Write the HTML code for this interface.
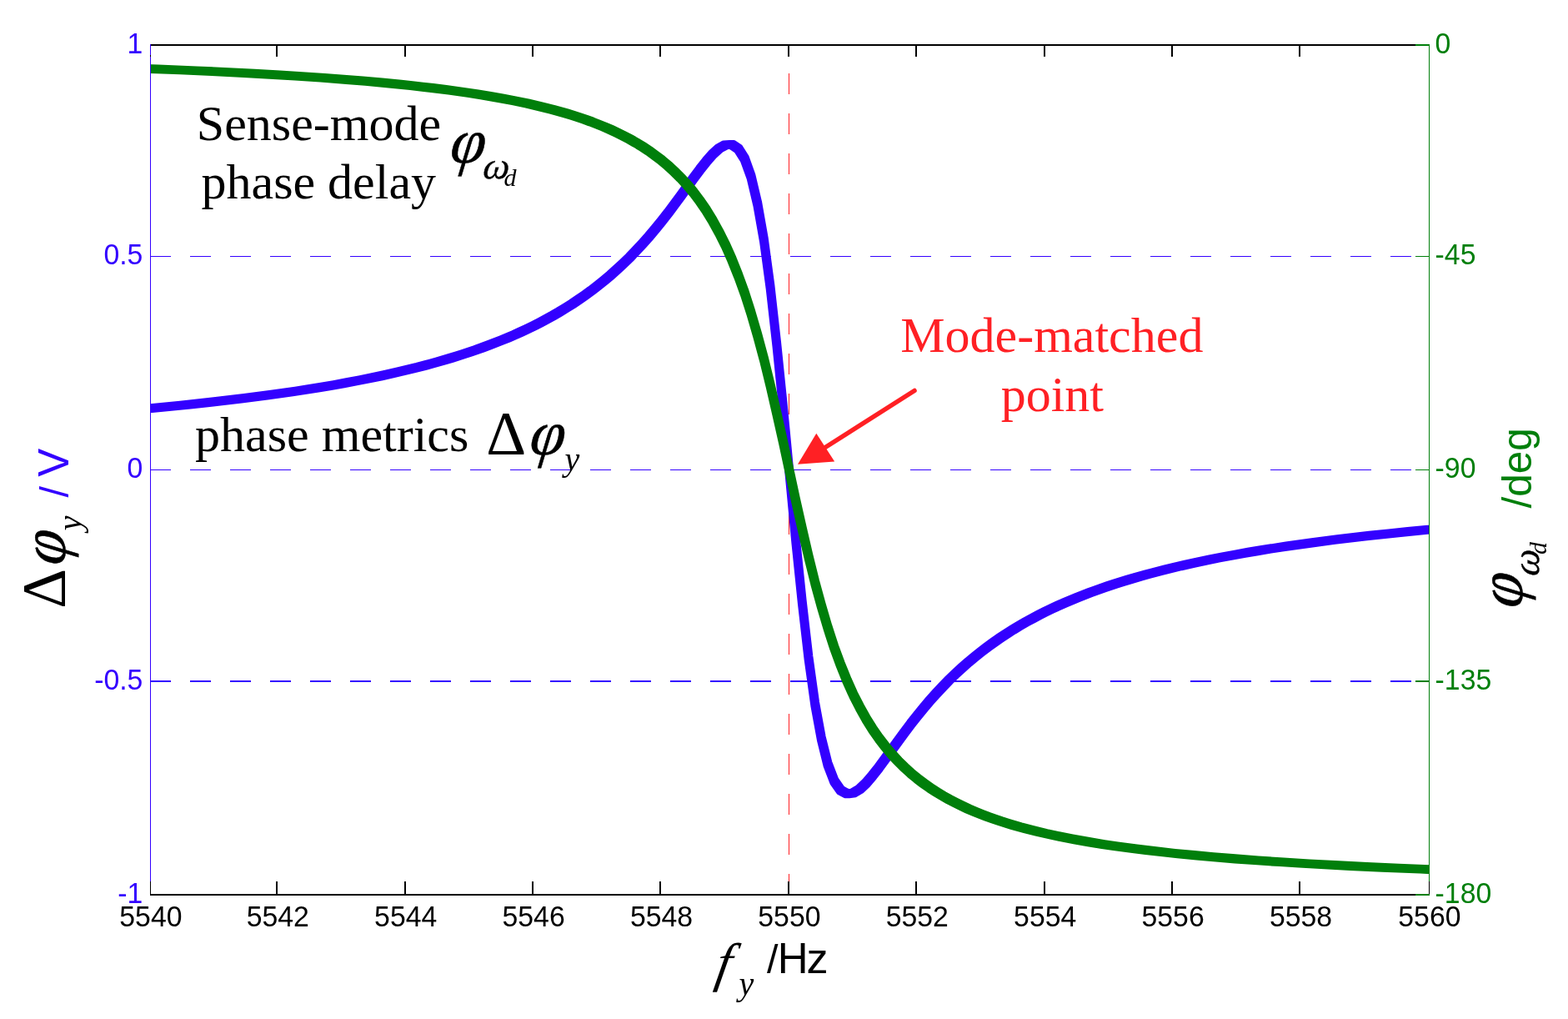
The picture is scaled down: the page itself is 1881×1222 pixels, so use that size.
<!DOCTYPE html>
<html lang="en"><head><meta charset="utf-8"><title>Phase metrics vs sense-mode frequency</title>
<style>
html,body{margin:0;padding:0;background:#fff;}
body{width:1881px;height:1222px;overflow:hidden;}
svg{display:block;}
text{white-space:pre;}
.tk{font-family:'Liberation Sans', Arial, sans-serif;font-size:35.17px;}
.an{font-family:'Liberation Serif', 'Times New Roman', serif;font-size:60px;}
.mi{font-family:'Liberation Serif', 'Times New Roman', serif;font-style:italic;}
.un{font-family:'Liberation Sans', Arial, sans-serif;}
.cr{shape-rendering:crispEdges;}
</style></head><body>
<svg width="1881" height="1222" viewBox="0 0 1881 1222">
<rect x="0" y="0" width="1881" height="1222" fill="#ffffff"/>
<g class="cr" stroke="#3300ff" stroke-dasharray="25 23" fill="none">
<line x1="180" y1="307.5" x2="1698" y2="307.5" stroke-width="1"/>
<line x1="180" y1="563.5" x2="1698" y2="563.5" stroke-width="1"/>
<line x1="180" y1="817" x2="1698" y2="817" stroke-width="2"/>
</g>
<line class="cr" x1="946.5" y1="1073" x2="946.5" y2="55" stroke="#ff2024" stroke-width="1" stroke-dasharray="25 23"/>
<clipPath id="plotclip"><rect x="180" y="40" width="1535" height="1045"/></clipPath>
<g clip-path="url(#plotclip)" stroke-width="5.6" stroke-linejoin="round">
<path d="M180.0 487.0 L216.0 483.5 L254.2 479.4 L292.5 474.8 L323.2 470.8 L354.0 466.4 L369.2 464.0 L384.8 461.5 L400.0 458.9 L415.2 456.1 L430.5 453.2 L446.0 450.0 L461.2 446.8 L476.5 443.3 L499.5 437.7 L514.8 433.6 L522.8 431.4 L537.8 427.0 L545.5 424.6 L553.5 422.1 L568.5 417.1 L584.0 411.4 L599.2 405.5 L607.0 402.3 L614.8 399.0 L622.2 395.6 L630.0 392.0 L637.8 388.2 L645.2 384.4 L653.0 380.3 L660.8 376.0 L668.2 371.7 L676.2 366.8 L683.8 362.1 L691.5 356.9 L699.0 351.7 L706.8 346.1 L714.5 340.1 L722.0 334.1 L729.8 327.6 L737.5 320.7 L745.0 313.7 L752.8 306.2 L760.2 298.5 L768.2 289.9 L775.8 281.4 L783.2 272.6 L791.2 262.7 L798.8 253.1 L806.2 243.2 L814.2 232.3 L829.5 211.2 L837.2 200.8 L844.8 191.2 L852.5 182.3 L860.2 175.4 L867.8 171.2 L875.2 170.8 L880.5 170.8 L888.0 175.8 L888.2 176.0 L895.8 188.0 L903.5 209.4 L911.2 241.8 L918.8 284.7 L926.5 341.4 L934.2 409.7 L941.8 484.0 L957.2 646.3 L964.8 719.7 L972.5 786.6 L980.2 841.7 L987.8 883.1 L995.5 914.0 L1003.2 934.1 L1010.8 945.0 L1011.0 945.2 L1017.5 948.8 L1017.8 948.9 L1021.2 948.4 L1028.8 943.9 L1036.5 936.6 L1044.2 927.6 L1051.8 917.9 L1059.5 907.4 L1074.8 886.3 L1082.5 875.8 L1090.2 865.6 L1097.8 856.0 L1105.5 846.5 L1113.2 837.4 L1121.0 828.7 L1128.5 820.7 L1136.2 812.8 L1144.0 805.3 L1151.5 798.4 L1159.5 791.3 L1167.0 785.1 L1174.8 778.9 L1182.2 773.2 L1190.0 767.6 L1197.5 762.4 L1205.2 757.3 L1213.0 752.4 L1220.5 747.9 L1228.2 743.4 L1236.0 739.2 L1243.8 735.1 L1251.2 731.3 L1259.0 727.5 L1266.8 723.9 L1274.2 720.6 L1282.0 717.3 L1289.8 714.1 L1305.0 708.2 L1312.8 705.3 L1328.0 700.0 L1335.8 697.5 L1351.0 692.7 L1358.8 690.4 L1374.0 686.1 L1381.8 684.1 L1397.0 680.2 L1420.2 674.7 L1435.2 671.4 L1450.5 668.2 L1466.0 665.2 L1481.2 662.4 L1496.8 659.6 L1512.0 657.1 L1542.8 652.3 L1573.5 648.0 L1604.2 644.1 L1642.5 639.6 L1665.5 637.2 L1688.5 634.9 L1712.5 632.6 L1715.0 632.6 L1715.0 637.8 L1678.0 641.4 L1639.8 645.5 L1601.5 650.0 L1570.8 654.1 L1540.0 658.5 L1524.8 660.8 L1509.2 663.4 L1494.0 666.0 L1478.8 668.7 L1463.5 671.6 L1448.0 674.7 L1432.8 678.0 L1417.5 681.4 L1394.5 687.1 L1379.2 691.1 L1371.2 693.3 L1356.2 697.7 L1348.5 700.0 L1340.5 702.6 L1325.5 707.6 L1310.0 713.2 L1294.8 719.1 L1287.0 722.3 L1279.2 725.6 L1271.8 728.9 L1264.0 732.5 L1256.2 736.3 L1248.8 740.1 L1241.0 744.2 L1233.2 748.4 L1225.8 752.7 L1217.8 757.5 L1210.2 762.3 L1202.5 767.4 L1195.0 772.6 L1187.2 778.2 L1179.5 784.1 L1172.0 790.1 L1164.2 796.5 L1156.5 803.4 L1149.0 810.3 L1141.2 817.8 L1133.8 825.5 L1125.8 834.0 L1118.2 842.4 L1110.8 851.2 L1102.8 861.0 L1095.2 870.6 L1087.5 880.8 L1079.8 891.3 L1064.5 912.4 L1056.8 922.9 L1049.2 932.6 L1041.5 941.6 L1033.8 948.9 L1026.2 953.4 L1018.8 954.4 L1013.5 954.4 L1006.0 950.2 L1005.8 950.0 L998.2 939.1 L990.5 919.0 L982.8 888.1 L975.2 846.7 L967.5 791.6 L959.8 724.7 L952.2 651.3 L936.8 489.0 L929.2 414.7 L921.5 346.4 L913.8 289.7 L906.2 246.8 L898.5 214.4 L890.8 193.0 L883.2 181.0 L883.0 180.8 L876.0 176.2 L875.8 176.0 L872.8 176.2 L865.2 180.4 L857.2 187.6 L849.8 196.2 L842.2 205.8 L834.5 216.2 L819.2 237.3 L811.2 248.2 L803.8 258.1 L796.2 267.7 L788.5 277.3 L780.8 286.4 L773.0 295.2 L765.5 303.2 L757.8 311.2 L750.0 318.7 L742.5 325.7 L734.5 332.8 L727.0 339.1 L719.2 345.3 L711.8 351.1 L704.0 356.7 L696.5 361.9 L688.8 367.1 L681.0 372.0 L673.5 376.5 L665.8 381.0 L658.0 385.3 L650.2 389.4 L642.8 393.2 L635.0 397.0 L627.2 400.6 L619.8 404.0 L612.0 407.3 L604.2 410.5 L589.0 416.4 L581.2 419.3 L566.0 424.6 L558.2 427.2 L543.0 432.0 L535.2 434.3 L520.0 438.6 L512.2 440.7 L497.0 444.6 L473.8 450.1 L458.8 453.4 L443.5 456.6 L428.0 459.6 L412.8 462.5 L397.2 465.2 L382.0 467.8 L351.2 472.5 L320.8 476.8 L289.8 480.8 L251.5 485.3 L228.5 487.7 L205.5 490.0 L182.5 492.2 L180.0 492.2Z" fill="#3300ff" stroke="#3300ff"/>
<path d="M180.0 80.0 L182.5 80.0 L190.2 80.3 L236.2 82.2 L274.5 84.0 L305.2 85.6 L335.8 87.3 L359.0 88.7 L389.5 90.8 L412.5 92.5 L435.5 94.4 L458.5 96.4 L481.5 98.6 L497.0 100.3 L519.8 102.9 L535.5 104.8 L558.2 107.9 L573.8 110.3 L589.0 112.7 L604.5 115.5 L619.8 118.4 L635.0 121.6 L650.5 125.2 L665.5 129.0 L681.0 133.3 L688.8 135.7 L696.5 138.2 L704.0 140.7 L711.8 143.5 L719.5 146.5 L727.0 149.5 L734.8 152.9 L742.5 156.5 L750.0 160.2 L757.8 164.3 L765.5 168.7 L773.0 173.2 L780.8 178.3 L788.5 183.9 L796.0 189.6 L803.8 196.1 L811.5 203.2 L819.2 210.9 L826.8 219.1 L834.5 228.4 L842.0 238.4 L849.8 249.7 L857.5 262.3 L865.2 276.3 L872.8 291.4 L880.5 308.7 L888.2 328.1 L895.8 349.0 L903.2 372.2 L911.2 399.6 L918.8 427.7 L926.5 459.1 L934.2 492.6 L941.8 526.5 L957.2 598.1 L964.8 631.8 L972.5 665.1 L980.2 696.2 L987.8 724.0 L995.5 750.2 L1003.2 773.9 L1010.8 794.5 L1018.8 814.2 L1026.2 830.7 L1033.8 845.6 L1041.5 859.4 L1049.2 871.8 L1057.0 883.0 L1064.5 892.8 L1072.2 902.0 L1080.0 910.4 L1087.8 918.0 L1095.2 924.8 L1103.0 931.2 L1110.8 937.1 L1118.2 942.3 L1126.0 947.4 L1133.8 952.1 L1141.2 956.3 L1149.0 960.3 L1156.8 964.1 L1164.2 967.6 L1171.8 970.8 L1179.8 974.0 L1187.2 976.9 L1195.0 979.6 L1202.5 982.2 L1210.2 984.6 L1225.5 989.1 L1241.0 993.2 L1256.2 996.9 L1271.8 1000.3 L1286.8 1003.3 L1302.5 1006.1 L1325.2 1009.9 L1340.8 1012.2 L1363.8 1015.3 L1386.8 1018.1 L1409.8 1020.7 L1432.8 1022.9 L1455.8 1025.0 L1478.8 1026.9 L1509.5 1029.3 L1540.0 1031.3 L1570.8 1033.2 L1601.5 1034.9 L1639.8 1036.8 L1678.0 1038.5 L1715.0 1040.0 L1715.0 1045.1 L1712.5 1045.1 L1703.8 1044.8 L1657.8 1042.9 L1619.5 1041.1 L1588.8 1039.5 L1558.2 1037.8 L1535.0 1036.3 L1504.5 1034.3 L1481.5 1032.6 L1458.5 1030.7 L1435.5 1028.7 L1412.5 1026.5 L1397.0 1024.8 L1374.2 1022.2 L1358.5 1020.3 L1335.8 1017.2 L1320.2 1014.9 L1305.0 1012.4 L1289.5 1009.7 L1274.2 1006.8 L1259.0 1003.6 L1243.5 1000.1 L1228.5 996.3 L1213.0 992.0 L1205.2 989.6 L1197.5 987.2 L1190.0 984.6 L1182.2 981.9 L1174.5 978.9 L1167.0 975.9 L1159.2 972.6 L1151.5 969.0 L1144.0 965.3 L1136.2 961.3 L1128.5 956.9 L1121.0 952.4 L1113.2 947.3 L1105.5 941.9 L1098.0 936.2 L1090.2 929.8 L1082.5 922.8 L1074.8 915.1 L1067.2 907.0 L1059.5 897.8 L1052.0 888.0 L1044.2 876.8 L1036.5 864.4 L1028.8 850.6 L1021.2 835.7 L1013.5 818.6 L1005.8 799.5 L998.2 778.9 L990.8 756.0 L982.8 729.0 L975.2 701.2 L967.5 670.1 L959.8 636.8 L952.2 603.1 L936.8 531.5 L929.2 497.6 L921.5 464.1 L913.8 432.7 L906.2 404.6 L898.5 378.0 L890.8 354.0 L883.2 333.1 L875.2 313.2 L867.8 296.4 L860.2 281.3 L852.5 267.3 L844.8 254.7 L837.0 243.4 L829.5 233.4 L821.8 224.1 L814.0 215.7 L806.2 208.0 L798.8 201.1 L791.0 194.6 L783.2 188.7 L775.8 183.3 L768.2 178.4 L760.5 173.7 L752.8 169.3 L745.0 165.2 L737.5 161.5 L729.8 157.9 L722.0 154.5 L714.5 151.5 L706.8 148.5 L699.0 145.7 L691.5 143.2 L683.8 140.7 L676.0 138.3 L660.8 134.0 L645.5 130.2 L630.0 126.6 L614.5 123.3 L599.2 120.4 L576.5 116.5 L561.0 114.1 L538.0 110.8 L515.0 107.9 L492.0 105.3 L468.8 102.9 L438.2 100.0 L415.2 98.1 L384.5 95.8 L354.0 93.7 L323.2 91.9 L292.5 90.2 L254.2 88.2 L216.0 86.5 L180.0 85.1Z" fill="#007f0b" stroke="#007f0b"/>
</g>
<g class="cr">
<line x1="180" y1="54" x2="1715" y2="54" stroke="#000" stroke-width="2"/>
<line x1="180" y1="1073" x2="1715" y2="1073" stroke="#000" stroke-width="2"/>
<line x1="180.5" y1="53" x2="180.5" y2="1072" stroke="#3300ff" stroke-width="1"/>
<line x1="1714.5" y1="53" x2="1714.5" y2="1074" stroke="#007f0b" stroke-width="1"/>
</g>
<g class="cr" stroke="#000" stroke-width="2">
<line x1="332" y1="55" x2="332" y2="68"/>
<line x1="332" y1="1072" x2="332" y2="1057"/>
<line x1="486" y1="55" x2="486" y2="68"/>
<line x1="486" y1="1072" x2="486" y2="1057"/>
<line x1="639" y1="55" x2="639" y2="68"/>
<line x1="639" y1="1072" x2="639" y2="1057"/>
<line x1="792" y1="55" x2="792" y2="68"/>
<line x1="792" y1="1072" x2="792" y2="1057"/>
<line x1="946" y1="55" x2="946" y2="68"/>
<line x1="946" y1="1072" x2="946" y2="1057"/>
<line x1="1099" y1="55" x2="1099" y2="68"/>
<line x1="1099" y1="1072" x2="1099" y2="1057"/>
<line x1="1253" y1="55" x2="1253" y2="68"/>
<line x1="1253" y1="1072" x2="1253" y2="1057"/>
<line x1="1406" y1="55" x2="1406" y2="68"/>
<line x1="1406" y1="1072" x2="1406" y2="1057"/>
<line x1="1559" y1="55" x2="1559" y2="68"/>
<line x1="1559" y1="1072" x2="1559" y2="1057"/>
</g>
<g class="cr" stroke="#000" stroke-width="1">
<line x1="180.5" y1="1057" x2="180.5" y2="1073"/>
<line x1="180.5" y1="66" x2="180.5" y2="68"/>
<line x1="1714.5" y1="1057" x2="1714.5" y2="1073"/>
</g>
<g class="cr" stroke="#007f0b">
<line x1="1698" y1="54" x2="1715" y2="54" stroke-width="2"/>
<line x1="1698" y1="307.5" x2="1715" y2="307.5" stroke-width="1"/>
<line x1="1698" y1="563.5" x2="1715" y2="563.5" stroke-width="1"/>
<line x1="1698" y1="817" x2="1715" y2="817" stroke-width="2"/>
<line x1="1698" y1="1073" x2="1715" y2="1073" stroke-width="2"/>
</g>
<text class="tk" transform="translate(180.90 1111.00) scale(0.961 1)" text-anchor="middle" fill="#000">5540</text>
<text class="tk" transform="translate(333.30 1111.00) scale(0.961 1)" text-anchor="middle" fill="#000">5542</text>
<text class="tk" transform="translate(486.70 1111.00) scale(0.961 1)" text-anchor="middle" fill="#000">5544</text>
<text class="tk" transform="translate(640.10 1111.00) scale(0.961 1)" text-anchor="middle" fill="#000">5546</text>
<text class="tk" transform="translate(793.50 1111.00) scale(0.961 1)" text-anchor="middle" fill="#000">5548</text>
<text class="tk" transform="translate(946.90 1111.00) scale(0.961 1)" text-anchor="middle" fill="#000">5550</text>
<text class="tk" transform="translate(1100.30 1111.00) scale(0.961 1)" text-anchor="middle" fill="#000">5552</text>
<text class="tk" transform="translate(1253.70 1111.00) scale(0.961 1)" text-anchor="middle" fill="#000">5554</text>
<text class="tk" transform="translate(1407.10 1111.00) scale(0.961 1)" text-anchor="middle" fill="#000">5556</text>
<text class="tk" transform="translate(1560.50 1111.00) scale(0.961 1)" text-anchor="middle" fill="#000">5558</text>
<text class="tk" transform="translate(1714.90 1111.00) scale(0.961 1)" text-anchor="middle" fill="#000">5560</text>
<text class="tk" transform="translate(171.40 64.00) scale(0.961 1)" text-anchor="end" fill="#3300ff">1</text>
<text class="tk" transform="translate(171.40 317.00) scale(0.961 1)" text-anchor="end" fill="#3300ff">0.5</text>
<text class="tk" transform="translate(171.40 573.00) scale(0.961 1)" text-anchor="end" fill="#3300ff">0</text>
<text class="tk" transform="translate(171.40 827.00) scale(0.961 1)" text-anchor="end" fill="#3300ff">-0.5</text>
<text class="tk" transform="translate(171.40 1083.00) scale(0.961 1)" text-anchor="end" fill="#3300ff">-1</text>
<text class="tk" transform="translate(1721.60 64.00) scale(0.961 1)" text-anchor="start" fill="#007f0b">0</text>
<text class="tk" transform="translate(1721.60 317.00) scale(0.961 1)" text-anchor="start" fill="#007f0b">-45</text>
<text class="tk" transform="translate(1721.60 573.00) scale(0.961 1)" text-anchor="start" fill="#007f0b">-90</text>
<text class="tk" transform="translate(1721.60 827.00) scale(0.961 1)" text-anchor="start" fill="#007f0b">-135</text>
<text class="tk" transform="translate(1721.60 1083.00) scale(0.961 1)" text-anchor="start" fill="#007f0b">-180</text>
<text class="an" x="235.8" y="168" fill="#000">Sense-mode</text>
<text class="an" x="241.5" y="237.8" fill="#000">phase delay</text>
<text class="an" x="234.1" y="541" fill="#000">phase metrics</text>
<text class="an" x="1261.8" y="422" fill="#ff2024" text-anchor="middle">Mode-matched</text>
<text class="an" x="1262.3" y="492.6" fill="#ff2024" text-anchor="middle">point</text>
<text class="mi" transform="translate(538.50 194.50) skewX(-7)" font-size="76" fill="#000" stroke="#000" stroke-width="0.5">φ</text>
<text class="mi" transform="translate(578.5 213.5) skewX(-6)" font-size="45" fill="#000" stroke="#000" stroke-width="0.4">ω</text>
<text class="mi" x="604.5" y="223" font-size="30" fill="#000">d</text>
<text x="583.3" y="545" font-family="'Liberation Serif', 'Times New Roman', serif" font-size="74.5" fill="#000">Δ</text>
<text class="mi" transform="translate(634.00 545.00) skewX(-7)" font-size="76" fill="#000" stroke="#000" stroke-width="0.5">φ</text>
<text class="mi" x="677.5" y="563.5" font-size="40" fill="#000">y</text>
<line x1="1097" y1="468.5" x2="990" y2="536.5" stroke="#ff2024" stroke-width="5.5" stroke-linecap="round"/>
<polygon points="957,556.7 979.3,519.8 1001.2,553.5" fill="#ff2024"/>
<text class="mi" transform="translate(856.5 1176) skewX(-10)" font-size="64.5" fill="#000">f</text>
<text class="mi" x="886.5" y="1192.5" font-size="40" fill="#000">y</text>
<text class="un" y="1167.2" font-size="51" fill="#000"><tspan x="920" font-size="48.5">/</tspan><tspan x="932.7">H</tspan><tspan x="967.5" font-size="52">z</tspan></text>
<g transform="translate(77.5 729.8) rotate(-90)">
<text x="0" y="0" font-family="'Liberation Serif', 'Times New Roman', serif" font-size="74.5" fill="#000">Δ</text>
<text class="mi" transform="translate(50.50 0.00) skewX(-7)" font-size="76" fill="#000" stroke="#000" stroke-width="0.5">φ</text>
<text class="mi" x="93.5" y="19.5" font-size="40" fill="#000">y</text>
</g>
<g transform="translate(81.7 597) rotate(-90)">
<text class="un" y="0" font-size="51" fill="#3300ff"><tspan x="0.5" font-size="48.5">/</tspan><tspan x="25.2" y="0.3">V</tspan></text>
</g>
<g transform="translate(1826 730.5) rotate(-90)">
<text class="mi" transform="translate(0.00 0.00) skewX(-7)" font-size="76" fill="#000" stroke="#000" stroke-width="0.5">φ</text>
<text class="mi" transform="translate(39 19.5) skewX(-6)" font-size="45" fill="#000" stroke="#000" stroke-width="0.4">ω</text>
<text class="mi" x="65.5" y="29" font-size="30" fill="#000">d</text>
</g>
<g transform="translate(1836.5 609.5) rotate(-90)">
<text class="un" x="0" y="0" font-size="49.5" fill="#007f0b">/deg</text>
</g>
</svg>
</body></html>
